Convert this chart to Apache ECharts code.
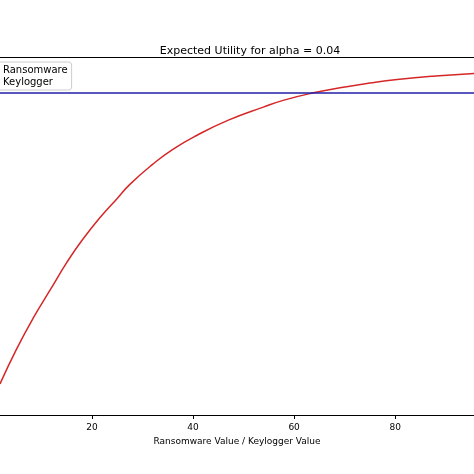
<!DOCTYPE html>
<html><head><meta charset="utf-8">
<script src="https://cdn.jsdelivr.net/npm/echarts@6/dist/echarts.min.js"></script>
<style>html,body{margin:0;background:#fff}#main{width:474px;height:474px}</style>
</head><body><div id="main"></div>
<script>
const ransomwareX = [1.8, 5, 8.3, 12, 15, 18, 21.6, 25, 27.5, 32, 36, 40.8, 47, 53.9, 58, 63.6, 70, 75, 80.4, 88, 95.6];
const ransomwareY = [31, 65, 96, 127, 152, 174, 197, 216, 230, 250, 265, 279, 294, 307, 314, 321, 327, 331, 334.5, 338, 340.5];
const keyloggerY = 321;
const xTicks = [20, 40, 60, 80];

const myChart = echarts.init(document.getElementById('main'));
myChart.setOption({
  animation: false,
  title: {
    text: 'Expected Utility for alpha = 0.04',
    left: 245, top: 41, textAlign: 'center',
    textStyle: { fontSize: 11, fontWeight: 'normal', color: '#000', fontFamily: 'DejaVu Sans' },
  },
  legend: {
    left: -30, top: 62, orient: 'vertical', itemGap: 2, itemWidth: 24, itemHeight: 2,
    borderColor: '#ccc', borderWidth: 1, borderRadius: 3, padding: [3, 4],
    textStyle: { fontSize: 10, color: '#000', fontFamily: 'DejaVu Sans' },
    data: [{ name: 'Ransomware', icon: 'rect' }, { name: 'Keylogger', icon: 'rect' }],
  },
  grid: { left: 0, right: 0, top: 57, bottom: 59 },
  xAxis: {
    type: 'value', min: 1.8, max: 95.6,
    axisLine: { lineStyle: { color: '#000' } },
    axisTick: { length: 4, customValues: xTicks, lineStyle: { color: '#000' } },
    axisLabel: { customValues: xTicks, fontSize: 9, color: '#000', fontFamily: 'DejaVu Sans' },
    splitLine: { show: false },
    name: 'Ransomware Value / Keylogger Value', nameLocation: 'middle', nameGap: 22,
    nameTextStyle: { fontSize: 9, color: '#000', fontFamily: 'DejaVu Sans' },
  },
  yAxis: {
    type: 'value', min: 0, max: 357,
    axisLine: { show: false }, axisTick: { show: false }, axisLabel: { show: false },
    splitLine: { show: false },
  },
  series: [
    {
      name: 'Ransomware', type: 'line', smooth: true, showSymbol: false,
      color: '#d62728', lineStyle: { width: 1.5 },
      data: ransomwareX.map((x, i) => [x, ransomwareY[i]]),
    },
    {
      name: 'Keylogger', type: 'line', showSymbol: false,
      color: '#1f1fa8', lineStyle: { width: 1.5 },
      data: [[1.8, keyloggerY], [95.6, keyloggerY]],
      markLine: {
        silent: true, symbol: 'none', label: { show: false },
        lineStyle: { color: '#000', width: 1, type: 'solid' },
        data: [{ yAxis: 357 }],
      },
    },
  ],
});
</script></body></html>
